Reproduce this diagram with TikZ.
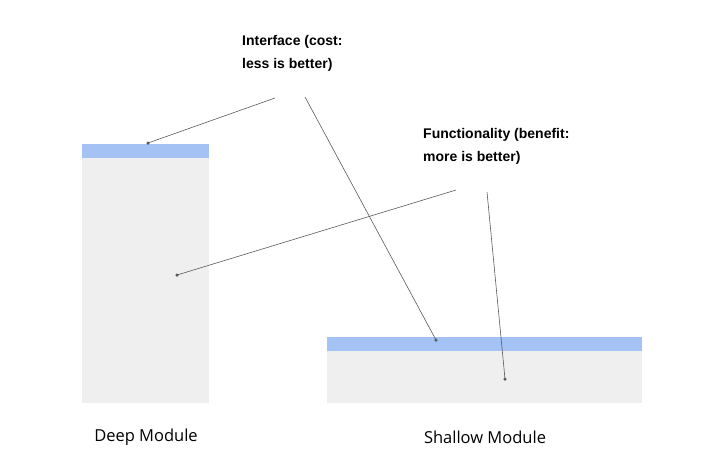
\documentclass[tikz,border=0pt]{standalone}
\usepackage{fontspec}
\setmainfont{Liberation Sans}
\newfontfamily\os{Open Sans}
\definecolor{blu}{HTML}{A4C2F4}
\definecolor{gry}{HTML}{EFEFEF}
\definecolor{ln}{HTML}{595959}
\begin{document}
\begin{tikzpicture}[x=1pt,y=-1pt,
  lab/.style={anchor=north west,align=left,font=\bfseries\fontsize{14}{23}\selectfont,inner sep=0},
  captxt/.style={font=\os\fontsize{16.5}{18}\selectfont},
  lk/.style={draw=ln,line width=0.6pt},
  dt/.style={circle,fill=ln,inner sep=0,minimum size=3.5pt}]
\useasboundingbox (0,0) rectangle (715,469);
\fill[gry] (82,158) rectangle (209,403);
\fill[blu] (82,144) rectangle (209,158);
\fill[gry] (327,351) rectangle (642,403);
\fill[blu] (327,337) rectangle (642,351);
\node[lab] (ti) at (242,35) {Interface (cost:\\less is better)};
\node[lab] (tf) at (423,128) {Functionality (benefit:\\more is better)};
\coordinate (a1) at (275,98); \node[dt] (d1) at (148,143) {};
\coordinate (a2) at (305,97); \node[dt] (d2) at (436,340) {};
\coordinate (a3) at (456,190); \node[dt] (d3) at (177,275) {};
\coordinate (a4) at (487,192); \node[dt] (d4) at (505,379) {};
\draw[lk] (a1) -- (d1.center);
\draw[lk] (a2) -- (d2.center);
\draw[lk] (a3) -- (d3.center);
\draw[lk] (a4) -- (d4.center);
\node[captxt] (c1) at (146,437) {Deep Module};
\node[captxt] (c2) at (485,437) {Shallow Module};
\end{tikzpicture}
\end{document}
